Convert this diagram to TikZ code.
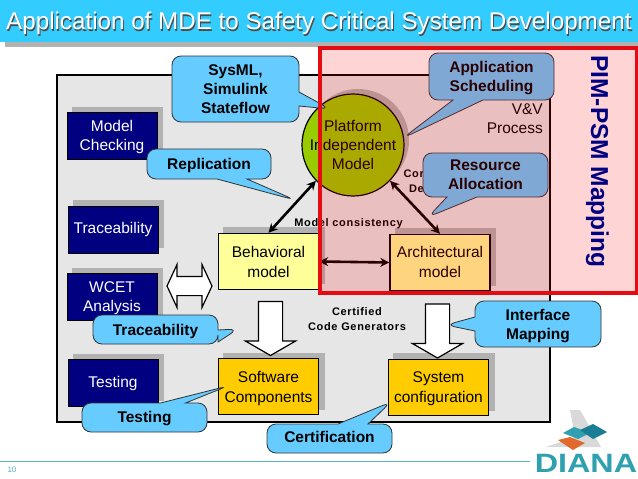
\documentclass[tikz,border=0pt]{standalone}
\usepackage{fontspec}
\setmainfont{Liberation Sans}
\usepackage{tikz}
\usetikzlibrary{arrows.meta, shapes.arrows, shapes.callouts}

\definecolor{titlecyan}{RGB}{51,204,255}
\definecolor{calloutblue}{RGB}{102,204,255}
\definecolor{panelgray}{RGB}{230,230,230}
\definecolor{shadowgray}{RGB}{178,178,178}
\definecolor{toolnavy}{RGB}{0,0,128}
\definecolor{modelyellow}{RGB}{255,255,153}
\definecolor{swyellow}{RGB}{255,204,0}
\definecolor{pimgreen}{RGB}{153,204,0}
\definecolor{mapred}{RGB}{228,12,18}
\definecolor{dianateal}{RGB}{46,160,175}
\definecolor{dianadark}{RGB}{25,125,150}
\definecolor{dianaorange}{RGB}{225,105,45}

\tikzset{
    toolbox/.style = {
        rectangle,
        draw = black,
        fill = toolnavy,
        text = white,
        font = \fontsize{15.5}{19}\selectfont,
        align = center,
        minimum width = 90pt,
        minimum height = 47pt,
        inner sep = 0pt
    },
    modelbox/.style = {
        rectangle,
        draw = black,
        line width = 1.4pt,
        align = center,
        font = \fontsize{15.5}{20}\selectfont,
        minimum width = 100pt,
        minimum height = 56pt,
        inner sep = 0pt
    },
    bubble/.style = {
        rectangle callout,
        rounded corners = 9pt,
        draw = black!80,
        line width = .8pt,
        fill = calloutblue,
        align = center,
        font = \fontsize{15.5}{19}\selectfont\bfseries,
        callout pointer width = 14pt,
        text depth = -8.5pt,
        inner sep = 0pt
    },
    blockdown/.style = {
        single arrow,
        draw = black,
        line width = 1.2pt,
        fill = white,
        shape border rotate = 270,
        minimum height = 54pt,
        minimum width = 49pt,
        single arrow head extend = 13pt,
        single arrow tip angle = 120,
        inner xsep = 11.5pt,
        inner ysep = 0pt
    },
    link/.style = {{Stealth[length=9pt,width=9pt]}-{Stealth[length=9pt,width=9pt]}, line width = 2.6pt},
    smallbold/.style = {font = \fontsize{11}{15}\selectfont\bfseries\addfontfeatures{LetterSpace=6}, align = center}
}

\begin{document}
\begin{tikzpicture}[x=1pt, y=-1pt]

    \useasboundingbox (0,0) rectangle (638,479);

    % title band
    \fill[white] (0,0) rectangle (638,479);
    \fill[shadowgray] (5,40) rectangle (638,46.5);
    \fill[titlecyan] (0,0) rectangle (638,41.5);
    \node[anchor=base west, inner sep=0pt, text=black!70, font=\fontsize{24.2}{28}\selectfont] at (7,31) {Application of MDE to Safety Critical System Development};
    \node[anchor=base west, inner sep=0pt, text=white, font=\fontsize{24.2}{28}\selectfont] (title) at (6,30) {Application of MDE to Safety Critical System Development};

    % footer
    \coordinate (footl) at (0,461);
    \coordinate (footr) at (530,461);
    \draw[dianateal!80, line width=.6pt] (footl) -- (footr);
    \node[text=dianateal!80, font=\fontsize{8}{10}\selectfont] (pagenum) at (12,470) {10};

    % main panel
    \draw[fill=panelgray, line width=2.4pt] (57,75) rectangle (550,422);

    % shadows
    \fill[shadowgray] (72,107) rectangle (163,154);
    \fill[shadowgray] (73,200) rectangle (164,248);
    \fill[shadowgray] (72,268) rectangle (163,315);
    \fill[shadowgray] (73,354) rectangle (164,401);
    \fill[shadowgray] (223,227) rectangle (325,284);
    \fill[shadowgray] (395,228) rectangle (496,286);
    \fill[shadowgray] (223,353) rectangle (325,410);
    \fill[shadowgray] (393,353) rectangle (495,411);
    \fill[shadowgray] (358,140) circle (51);

    % left column
    \node[toolbox, text depth=-.5pt] (check) at (112,135.5) {Model\\Checking};
    \node[toolbox] (trace) at (113,229.5) {Traceability};
    \node[toolbox, text depth=-2.5pt] (wcet) at (112,296.5) {WCET\\Analysis};
    \node[toolbox] (test) at (113,383) {Testing};

    % models
    \node[modelbox, fill=modelyellow] (behav) at (268.5,261.5) {Behavioral\\model};
    \node[modelbox, fill=modelyellow, text depth=2pt] (arch) at (440,262.5) {Architectural\\model};
    \node[modelbox, fill=swyellow, text depth=-3pt] (soft) at (268.5,386.5) {Software\\Components};
    \node[modelbox, fill=swyellow, text depth=-3pt] (conf) at (438.5,387.5) {System\\configuration};
    \node[circle, draw=black, line width=1.2pt, fill=pimgreen, minimum size=102pt, inner sep=0pt, align=center, font=\fontsize{15.5}{19}\selectfont] (pim) at (353,145) {Platform\\Independent\\Model};

    % links
    \draw[link] (pim.224) -- (behav.north);
    \draw[link] (pim.-44) -- (arch.north);
    \draw[link] (behav.east) -- (arch.west);

    % block arrows
    \node[blockdown] (downl) at (270.5,325) {};
    \node[blockdown] (downr) at (437.5,327.5) {};
    \node[double arrow, draw=black, line width=1.2pt, fill=white, minimum height=45pt, minimum width=42pt, double arrow head extend=12pt, double arrow tip angle=130, inner xsep=0pt, inner ysep=9pt] (swap) at (189.5,286) {};

    % labels
    \node[smallbold] (consist) at (348.5,224) {Model consistency};
    \node[smallbold] (certgen) at (357,319) {Certified\\Code Generators};
    \node[smallbold, anchor=east, align=right, inner sep=0pt] (corde) at (424,181.5) {Cor\\De};
    \node[anchor=east, align=right, inner sep=0pt, font=\fontsize{15.5}{18.5}\selectfont] (vv) at (543,118.5) {V\&V\\Process};

    % callouts
    \node[bubble, minimum width=127pt, minimum height=66pt, callout absolute pointer={(330,109)}] (sysml) at (235.5,89) {SysML,\\Simulink\\Stateflow};
    \node[bubble, text depth=-.5pt, minimum width=124pt, minimum height=30pt, callout pointer width=30pt, callout absolute pointer={(295,200)}] (repl) at (209,164) {Replication};
    \node[bubble, minimum width=125pt, minimum height=47pt, callout pointer width=30pt, callout absolute pointer={(403,138)}] (sched) at (491.5,76.5) {Application\\Scheduling};
    \node[bubble, minimum width=125pt, minimum height=44pt, callout pointer width=30pt, callout absolute pointer={(428,217)}] (alloc) at (485.5,175) {Resource\\Allocation};
    \node[bubble, text depth=-.5pt, minimum width=125pt, minimum height=29pt, callout pointer width=12pt, callout absolute pointer={(238,329)}] (tracecall) at (155.5,329.5) {Traceability};
    \node[bubble, text depth=2pt, minimum width=125pt, minimum height=29pt, callout pointer width=25pt, callout absolute pointer={(228,386)}] (testcall) at (144.5,417.5) {Testing};
    \node[bubble, text depth=3pt, minimum width=125pt, minimum height=29pt, callout pointer width=30pt, callout absolute pointer={(391,402)}] (certcall) at (329.5,438.5) {Certification};
    \node[bubble, minimum width=126pt, minimum height=46pt, callout absolute pointer={(446,325)}] (iface) at (538,324) {Interface\\Mapping};

    % mapping overlay
    \fill[red, fill opacity=.17] (320,48) rectangle (636.5,293);
    \draw[mapred, line width=3.5pt] (320,48) rectangle (636.5,293);
    \node[rotate=-90, text=toolnavy, font=\fontsize{24.5}{26}\selectfont\bfseries, inner sep=0pt] (pimpsm) at (597.5,161.5) {PIM-PSM Mapping};

    % logo
    \fill[black!15] (570,410) -- (580,410) -- (601,447) -- (546,447) -- (575,437) -- cycle;
    \fill[dianaorange] (558,440) -- (570,437) -- (585,443) -- (573,450) -- cycle;
    \fill[dianateal] (563,433) -- (574,427) -- (590,433) -- (578,439) -- cycle;
    \fill[dianadark] (580,430) -- (593,424) -- (607,432) -- (593,439) -- cycle;
    \node[text=dianateal, font=\fontsize{26.5}{28}\selectfont\bfseries, xscale=1.22, inner sep=0pt] (diana) at (586,463) {DIANA};

\end{tikzpicture}
\end{document}
